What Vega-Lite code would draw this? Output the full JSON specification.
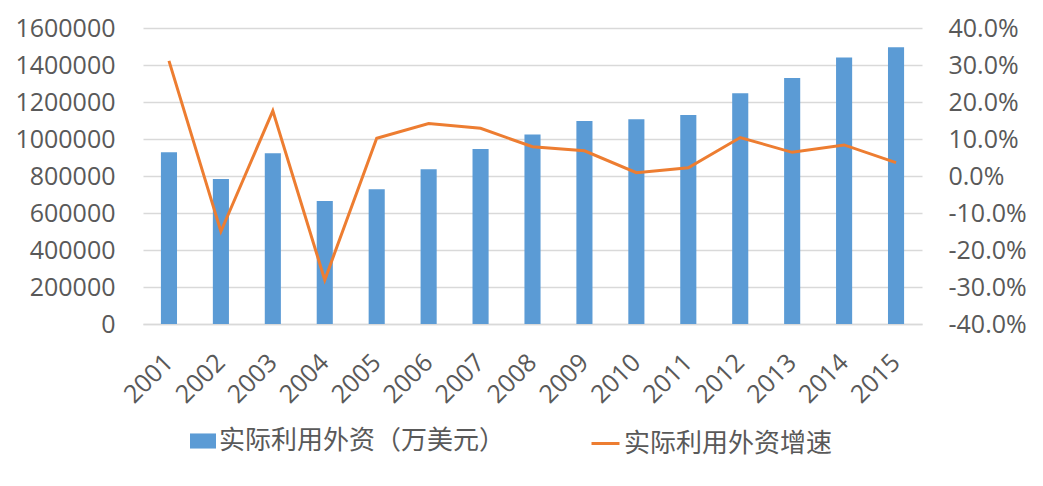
{
  "$schema": "https://vega.github.io/schema/vega-lite/v6.json",
  "width": 779,
  "height": 296,
  "autosize": {"type": "none"},
  "padding": {"left": 143, "top": 28, "right": 121, "bottom": 162},
  "background": "white",
  "config": {
    "view": {"stroke": null},
    "font": "Open Sans",
    "locale": {
      "number": {
        "decimal": ".",
        "thousands": ",",
        "grouping": [3],
        "currency": ["$", ""],
        "minus": "-"
      }
    }
  },
  "data": {
    "values": [
      {"year": "2001", "fdi": 928000, "growth": 0.311},
      {"year": "2002", "fdi": 784000, "growth": -0.150},
      {"year": "2003", "fdi": 922700, "growth": 0.176},
      {"year": "2004", "fdi": 665000, "growth": -0.281},
      {"year": "2005", "fdi": 728000, "growth": 0.102},
      {"year": "2006", "fdi": 836000, "growth": 0.142},
      {"year": "2007", "fdi": 946000, "growth": 0.129},
      {"year": "2008", "fdi": 1025000, "growth": 0.079},
      {"year": "2009", "fdi": 1097000, "growth": 0.068},
      {"year": "2010", "fdi": 1106500, "growth": 0.009},
      {"year": "2011", "fdi": 1130000, "growth": 0.022},
      {"year": "2012", "fdi": 1247000, "growth": 0.104},
      {"year": "2013", "fdi": 1330000, "growth": 0.064},
      {"year": "2014", "fdi": 1441000, "growth": 0.084},
      {"year": "2015", "fdi": 1496000, "growth": 0.036}
    ]
  },
  "encoding": {
    "x": {
      "field": "year",
      "type": "ordinal",
      "title": null,
      "scale": {"paddingInner": 0.69, "paddingOuter": 0.345},
      "axis": {
        "labelAngle": -45,
        "labelAlign": "right",
        "labelBaseline": "middle",
        "labelFontSize": 25,
        "labelColor": "#595959",
        "labelPadding": 34,
        "ticks": false,
        "domain": true,
        "domainColor": "#d9d9d9",
        "domainWidth": 1.5,
        "grid": false
      }
    }
  },
  "layer": [
    {
      "mark": {"type": "bar"},
      "encoding": {
        "y": {
          "field": "fdi",
          "type": "quantitative",
          "title": null,
          "scale": {"domain": [0, 1600000], "nice": false},
          "axis": {
            "orient": "left",
            "values": [0, 200000, 400000, 600000, 800000, 1000000, 1200000, 1400000, 1600000],
            "format": "d",
            "labelFontSize": 25,
            "labelColor": "#595959",
            "labelPadding": 28,
            "ticks": false,
            "domain": false,
            "grid": true,
            "gridColor": "#d9d9d9",
            "gridWidth": 1.5
          }
        },
        "fill": {
          "datum": "实际利用外资（万美元）",
          "type": "nominal",
          "scale": {"range": ["#5B9BD5"]},
          "legend": {
            "title": null,
            "orient": "none",
            "legendX": 47,
            "legendY": 400,
            "padding": 0,
            "symbolType": "M-1,-0.58H1V0.58H-1Z",
            "symbolSize": 676,
            "symbolStrokeWidth": 0,
            "labelFontSize": 26,
            "labelFont": "Noto Sans CJK SC",
            "labelColor": "#595959",
            "labelOffset": 3,
            "labelLimit": 500
          }
        }
      }
    },
    {
      "mark": {"type": "line", "strokeWidth": 3},
      "encoding": {
        "y": {
          "field": "growth",
          "type": "quantitative",
          "title": null,
          "scale": {"domain": [-0.4, 0.4], "nice": false},
          "axis": {
            "orient": "right",
            "values": [-0.4, -0.3, -0.2, -0.1, 0, 0.1, 0.2, 0.3, 0.4],
            "format": ".1%",
            "labelFontSize": 25,
            "labelColor": "#595959",
            "labelPadding": 26,
            "ticks": false,
            "domain": false,
            "grid": false
          }
        },
        "stroke": {
          "datum": "实际利用外资增速",
          "type": "nominal",
          "scale": {"range": ["#ED7D31"]},
          "legend": {
            "title": null,
            "orient": "none",
            "legendX": 447,
            "legendY": 400,
            "padding": 0,
            "symbolType": "stroke",
            "symbolSize": 784,
            "symbolStrokeWidth": 3,
            "labelFontSize": 26,
            "labelFont": "Noto Sans CJK SC",
            "labelColor": "#595959",
            "labelOffset": 3,
            "labelLimit": 500
          }
        }
      }
    }
  ],
  "resolve": {"scale": {"y": "independent"}}
}
